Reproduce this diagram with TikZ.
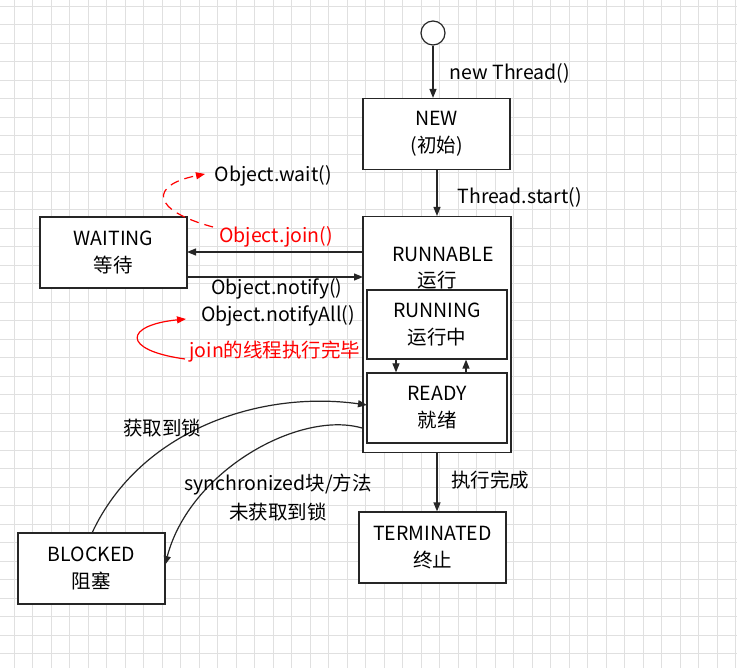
\documentclass[tikz,border=0pt]{standalone}
\usepackage{fontspec}
\setmainfont{Noto Sans CJK SC}
\usetikzlibrary{arrows.meta}
\begin{document}
\begin{tikzpicture}[x=1pt,y=-1pt,
  st/.style={draw=black!85,line width=1.2pt,fill=white,minimum width=147pt,minimum height=71pt,align=center,font=\fontsize{19.5}{27}\selectfont},
  lab/.style={font=\fontsize{19.5}{24}\selectfont,align=center},
  ar/.style={draw=black!85,line width=1.2pt,-{Triangle[length=9pt,width=7pt]}},
  rar/.style={draw=red,line width=1.2pt,-{Triangle[length=9pt,width=7pt]}}]
\useasboundingbox (0,0) rectangle (737,668);
\fill[white] (0,0) rectangle (737,668);
\foreach \i in {0,...,39} {\draw[black!12,line width=0.6pt] (14+18.5*\i,0) -- (14+18.5*\i,668);}
\foreach \i in {0,...,36} {\draw[black!12,line width=0.6pt] (0,6+18.5*\i) -- (737,6+18.5*\i);}
\node[draw=black!85,line width=1.2pt,circle,minimum size=24pt,inner sep=0pt,fill=white] (s) at (433,33) {};
\node[st] (new) at (436.5,134) {NEW\\(初始)};
\node[draw=black!85,line width=1.2pt,fill=white,minimum width=148pt,minimum height=236pt,anchor=north] (rn) at (437,216) {};
\node[lab] at (443,254) {RUNNABLE};
\node[lab] at (437,280) {运行};
\node[st,minimum width=140pt,minimum height=69pt] (ring) at (437,324.5) {RUNNING\\运行中};
\node[st,minimum width=140pt,minimum height=70pt] (ready) at (437,408) {READY\\就绪};
\node[st] (wait) at (113.5,252.5) {WAITING\\等待};
\node[st] (term) at (432.5,547.5) {TERMINATED\\终止};
\node[st] (blk) at (91.5,568.5) {BLOCKED\\阻塞};
\draw[ar] (s) -- (new.north-|s);
\node[lab,anchor=west] (l1) at (446,73) {new Thread()};
\draw[ar] (new.south-|rn) -- (rn.north);
\node[lab,anchor=west] (l2) at (454,197) {Thread.start()};
\coordinate (a1) at (363,252); \coordinate (a2) at (187,252);
\draw[ar] (a1) -- (a2);
\node[lab,text=red] (lj) at (276,237) {Object.join()};
\coordinate (b1) at (187,277); \coordinate (b2) at (363,277);
\draw[ar] (b1) -- (b2);
\node[lab] (ln) at (277,289) {Object.notify()};
\node[lab] (lna) at (278,316) {Object.notifyAll()};
\draw[ar] ([xshift=-41pt]ring.south) -- ([xshift=-41pt]ready.north);
\draw[ar] ([xshift=29pt]ready.north) -- ([xshift=29pt]ring.south);
\draw[ar] (ready.south|-rn.south) -- (term.north-|ready.south);
\node[lab] at (490,480) {执行完成};
\coordinate (c1) at (92,533); \coordinate (c2) at (367,405);
\draw[ar] (c1) .. controls (140,430) and (260,390) .. (c2);
\node[lab] at (162,428) {获取到锁};
\coordinate (d1) at (362,428); \coordinate (d2) at (165,565);
\draw[ar] (d1) .. controls (300,410) and (190,470) .. (d2);
\node[lab] at (278,485) {synchronized块/方法};
\node[lab] at (278,512) {未获取到锁};
\node[lab,anchor=west] (lw) at (211,176) {Object.wait()};
\coordinate (e1) at (213,227); \coordinate (e2) at (205,174);
\draw[rar,dash pattern=on 9pt off 6pt] (e1) .. controls (150,210) and (150,185) .. (e2);
\node[lab,text=red,anchor=west] (jt) at (186,352) {join的线程执行完毕};
\coordinate (f1) at (185,359); \coordinate (f2) at (186,319);
\draw[rar] (f1) .. controls (120,350) and (125,325) .. (f2);
\end{tikzpicture}
\end{document}
